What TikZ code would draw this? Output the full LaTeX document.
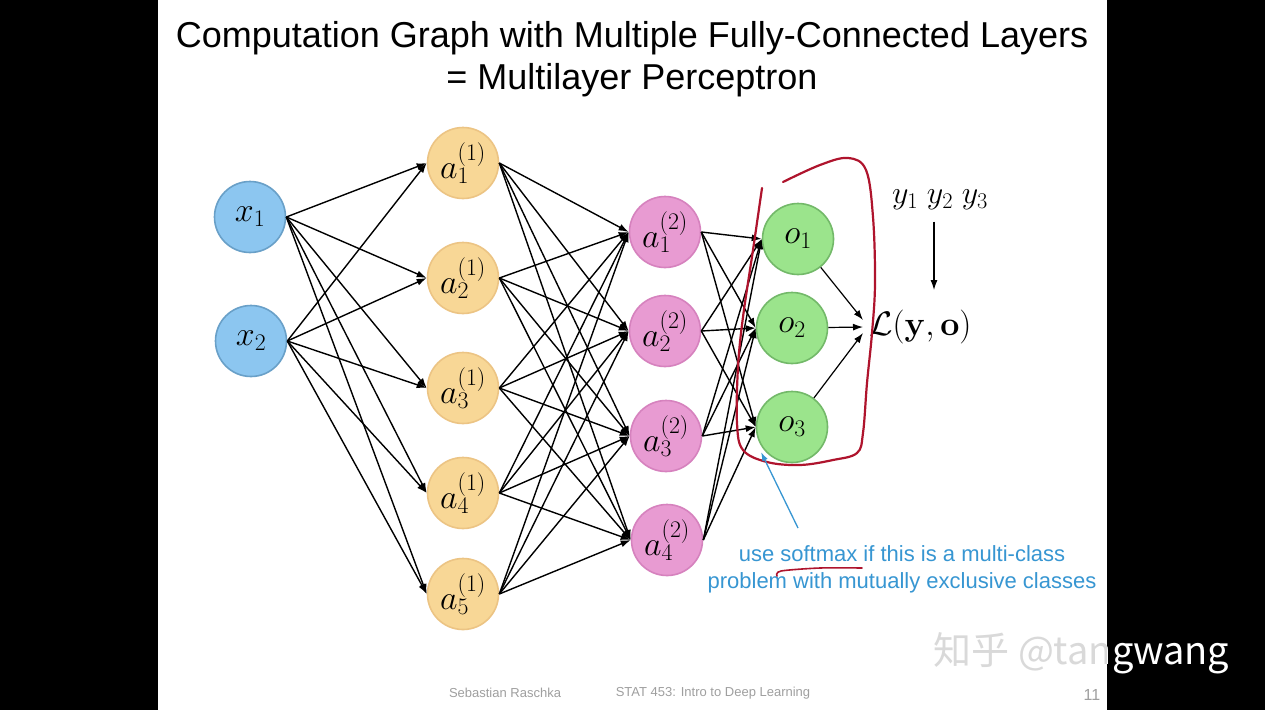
\RequirePackage{fix-cm}
\documentclass[tikz,border=0pt]{standalone}
\usepackage[no-math]{fontspec}
\setmainfont{Liberation Sans}
\newfontfamily\cjk{Noto Sans CJK SC}
\usetikzlibrary{arrows.meta}
\definecolor{cblue}{RGB}{140,198,240}
\definecolor{cblueb}{RGB}{105,160,200}
\definecolor{corange}{RGB}{248,215,150}
\definecolor{coranb}{RGB}{236,196,132}
\definecolor{cpink}{RGB}{232,155,210}
\definecolor{cpinkb}{RGB}{214,130,190}
\definecolor{cgreen}{RGB}{155,228,140}
\definecolor{cgreenb}{RGB}{115,185,105}
\definecolor{cred}{RGB}{175,20,45}
\definecolor{cnote}{RGB}{55,150,210}
\tikzset{
  neuron/.style={circle, minimum size=71pt, inner sep=0pt, line width=1.6pt, font=\fontsize{34}{34}\selectfont},
  inp/.style={neuron, fill=cblue, draw=cblueb},
  hidA/.style={neuron, fill=corange, draw=coranb},
  hidB/.style={neuron, fill=cpink, draw=cpinkb},
  outp/.style={neuron, fill=cgreen, draw=cgreenb},
  conn/.style={line width=1.4pt, -{Latex[length=10pt,width=7pt]}},
  foot/.style={text=gray!75, font=\fontsize{13}{13}\selectfont},
}
\begin{document}
\begin{tikzpicture}[x=1pt,y=-1pt]
\fill[black] (0,0) rectangle (1265,710);
\fill[white] (158,0) rectangle (1107,710);
\useasboundingbox (0,0) rectangle (1265,710);

\node[font=\fontsize{36}{42}\selectfont, align=center] (title) at (632,59)
  {Computation Graph with Multiple Fully-Connected Layers\\= Multilayer Perceptron};

% input layer
\node[inp] (x1) at (250,217) {$x_1$};
\node[inp] (x2) at (251,341) {$x_2$};
% hidden layer 1
\node[hidA] (h1) at (463,163) {$a^{(1)}_1$};
\node[hidA] (h2) at (463,278) {$a^{(1)}_2$};
\node[hidA] (h3) at (463,388) {$a^{(1)}_3$};
\node[hidA] (h4) at (463,493) {$a^{(1)}_4$};
\node[hidA] (h5) at (463,594) {$a^{(1)}_5$};
% hidden layer 2
\node[hidB] (g1) at (665,232) {$a^{(2)}_1$};
\node[hidB] (g2) at (665,331) {$a^{(2)}_2$};
\node[hidB] (g3) at (666,436) {$a^{(2)}_3$};
\node[hidB] (g4) at (667,540) {$a^{(2)}_4$};
% output layer
\node[outp] (o1) at (798,239) {$o_1$};
\node[outp] (o2) at (792,328) {$o_2$};
\node[outp] (o3) at (792,427) {$o_3$};

% loss
\node[anchor=west, inner sep=3pt, font=\fontsize{34}{34}\selectfont] (L) at (866,327) {$\mathcal{L}(\mathbf{y},\mathbf{o})$};
\node[font=\fontsize{32}{32}\selectfont] (ys) at (940,200) {$y_1\ y_2\ y_3$};
\coordinate (yarr) at (934,290);
\draw[conn, line width=1.2pt, shorten <=8pt] (ys.south -| yarr) -- (yarr);

% connections
\foreach \i in {1,2}{\foreach \j in {1,...,5}{\draw[conn] (x\i.east) -- (h\j.west);}}
\foreach \i in {1,...,5}{\foreach \j in {1,...,4}{\draw[conn] (h\i.east) -- (g\j.west);}}
\foreach \i in {1,...,4}{\foreach \j in {1,2,3}{\draw[conn] (g\i.east) -- (o\j.west);}}
\draw[conn, line width=1.2pt] (o1) -- ([yshift=7pt,xshift=-3pt]L.west);
\draw[conn, line width=1.2pt] (o2) -- ([xshift=-3pt]L.west);
\draw[conn, line width=1.2pt] (o3) -- ([yshift=-6pt,xshift=-3pt]L.west);

% red hand-drawn loop
\draw[cred, line width=2.2pt, line cap=round, line join=round]
  plot[smooth, tension=0.6] coordinates {(762,188) (753,250) (743,317) (738,367) (737,423) (743,450) (767,462) (800,465) (833,460) (857,453) (863,433) (867,383) (872,333) (875,283) (873,217) (866,170) (848,158) (820,165) (783,182)};

% note
\node[text=cnote, font=\fontsize{22}{27}\selectfont, align=center] (note) at (902,569)
  {use softmax if this is a multi-class\\problem with mutually exclusive classes};
\coordinate (nt) at (798,528);
\coordinate (nh) at (761,452);
\draw[cnote, line width=1.3pt, -{Latex[length=9pt,width=6pt]}] (nt) -- (nh);
\draw[cred, line width=1.6pt, line cap=round] plot[smooth, tension=0.5] coordinates {(777,576) (781,571) (820,568) (862,568)};

% footer
\node[foot] (f1) at (505,693) {Sebastian Raschka};
\node[foot] (f2) at (713,693) {STAT 453: Intro to Deep Learning};
\node[foot, font=\fontsize{16}{16}\selectfont] (f3) at (1092,695) {11};

% watermark
\begin{scope}
\clip (158,0) rectangle (1107,710);
\node[anchor=west, text=gray!30, font=\cjk\fontsize{38}{38}\selectfont] (wm1) at (930,653) {知乎 @tangwang};
\end{scope}
\begin{scope}
\clip (1107,0) rectangle (1265,710);
\node[anchor=west, text=white, font=\cjk\fontsize{38}{38}\selectfont] (wm2) at (930,653) {知乎 @tangwang};
\end{scope}
\end{tikzpicture}
\end{document}
